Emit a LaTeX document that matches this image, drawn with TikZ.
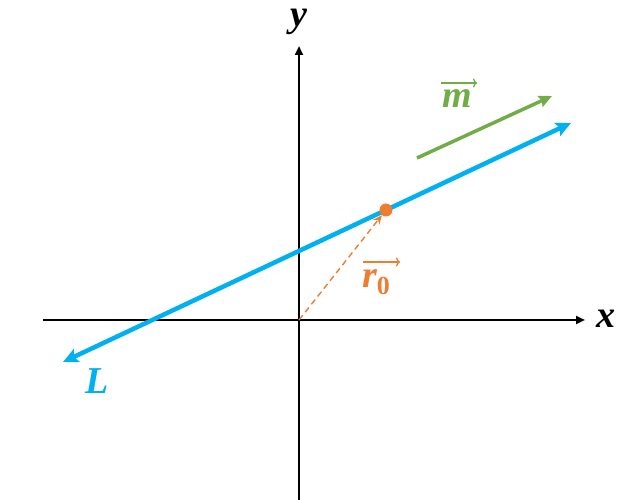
\documentclass[tikz,border=0pt]{standalone}
\usepackage{fontspec}
\setmainfont{Liberation Serif}
\usetikzlibrary{arrows.meta}
\definecolor{lblue}{HTML}{00B0F0}
\definecolor{lorange}{HTML}{ED7D31}
\definecolor{lgreen}{HTML}{70AD47}
\tikzset{
  axis/.style={line width=2.5pt,-{Triangle[length=9pt,width=8pt]}},
  lab/.style={font=\fontsize{38}{40}\selectfont\bfseries\itshape, inner sep=0pt, anchor=base},
  vecarrow/.style={line width=1.3pt,-{To[length=4pt,width=9pt]}},
}
\begin{document}
\begin{tikzpicture}[x=1pt,y=-1pt]
\useasboundingbox (0,0) rectangle (633,500);
\coordinate (xl) at (43,320);
\coordinate (xr) at (585,320);
\coordinate (yb) at (299,500);
\coordinate (yt) at (299,46);
\coordinate (O) at (299,320);
\draw[axis] (xl) -- (xr);
\draw[axis] (yb) -- (yt);
\coordinate (La) at (571,123);
\coordinate (Lb) at (63,362);
\draw[lblue, line width=4.5pt, {Stealth[length=15pt,width=14pt,inset=3pt]}-{Stealth[length=15pt,width=14pt,inset=3pt]}] (Lb) -- (La);
\node[circle, fill=lorange, minimum size=13pt, inner sep=0pt] (P) at (386,210) {};
\draw[lorange, line width=1.4pt, dash pattern=on 6pt off 4pt, -{Stealth[length=9pt,width=8pt]}] (O) -- (P);
\coordinate (ma) at (417,158);
\coordinate (mb) at (552,96);
\draw[lgreen, line width=3.5pt, -{Stealth[length=13pt,width=12pt,inset=2pt]}] (ma) -- (mb);
\node[lab] (ylab) at (299,27) {y};
\node[lab] (xlab) at (606,328) {x};
\node[lab, text=lblue] (Llab) at (97,393) {L};
\node[lab, text=lgreen] (mlab) at (457,108) {m};
\coordinate (mv1) at (441,83);
\coordinate (mv2) at (477,83);
\draw[vecarrow, lgreen] (mv1) -- (mv2);
\node[lab, text=lorange, anchor=base west] (rlab) at (362,288) {r\raisebox{-6pt}{\fontsize{26}{28}\selectfont\upshape 0}};
\coordinate (rv1) at (363,262);
\coordinate (rv2) at (400,262);
\draw[vecarrow, lorange] (rv1) -- (rv2);
\end{tikzpicture}
\end{document}
